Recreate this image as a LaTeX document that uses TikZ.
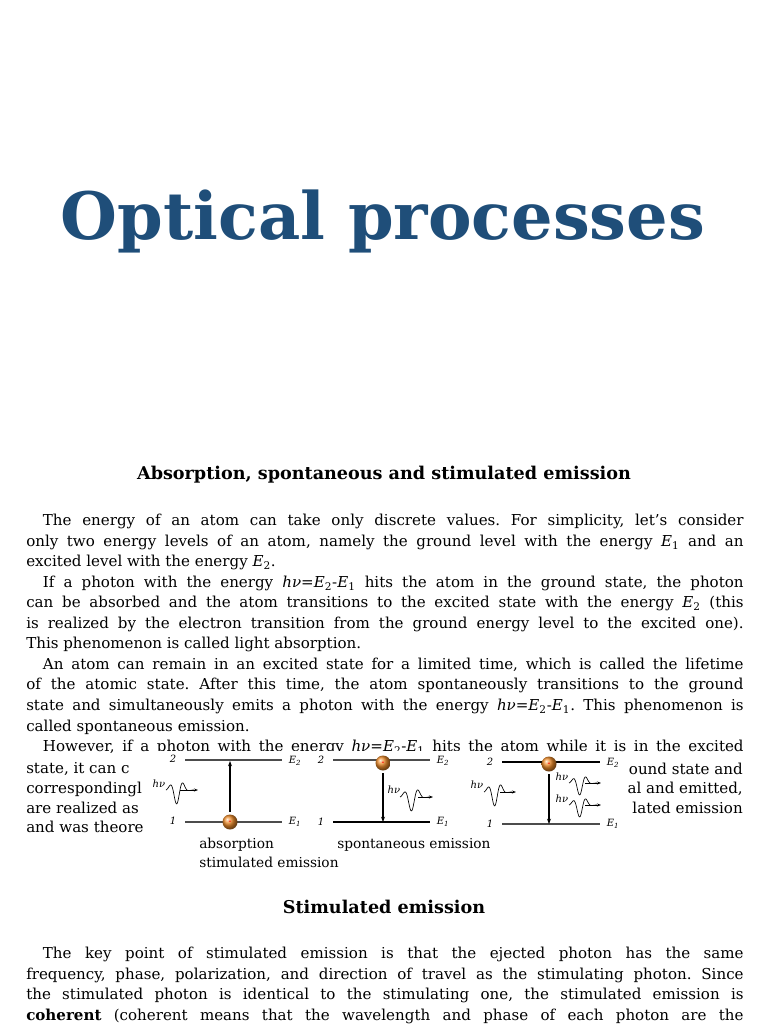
\documentclass[tikz,border=0pt]{standalone}
\usepackage{fontspec}
\setmainfont{DejaVu Serif}
\usetikzlibrary{arrows.meta}
\definecolor{titleblue}{RGB}{31,78,121}
\newcommand{\hnu}{\textit{hν}}
\newcommand{\Esub}[1]{\textit{E}\textsubscript{#1}}
\begin{document}
\begin{tikzpicture}[x=0.75pt,y=-0.75pt,
  body/.style={font=\fontsize{11.3}{15.4}\selectfont\frenchspacing, inner sep=0pt, align=justify, text width=538pt, anchor=north west},
  frag/.style={font=\fontsize{11.3}{15.4}\selectfont, inner sep=0pt},
  lvl/.style={line width=0.9pt, gray!60!black},
  lvlthick/.style={line width=1.5pt},
  trans/.style={line width=0.9pt, -{Stealth[length=4pt]}},
  lab/.style={font=\fontsize{7.5}{8}\selectfont\itshape, inner sep=0pt},
  captxt/.style={font=\fontsize{10.3}{11}\selectfont, inner sep=0pt, anchor=west},
  wave/.style={line width=0.5pt},
  warr/.style={line width=0.5pt, -{Stealth[length=3pt]}}]
\useasboundingbox (0,0) rectangle (768,1024);
\fill[white] (0,0) rectangle (768,1024);

\node[font=\fontsize{49}{52}\selectfont\bfseries, text=titleblue, inner sep=0pt] (title) at (383,221) {Optical processes};
\node[font=\fontsize{13.2}{15}\selectfont\bfseries, inner sep=0pt] (h1) at (384,475) {Absorption, spontaneous and stimulated emission};
\node[font=\fontsize{13.2}{15}\selectfont\bfseries, inner sep=0pt] (h2) at (384,907) {Stimulated emission};

\node[body] (p1) at (26,514) {\setlength{\parindent}{12.5pt}%
\indent The energy of an atom can take only discrete values. For simplicity, let’s consider\linebreak
only two energy levels of an atom, namely the ground level with the energy \Esub{1} and an\linebreak
excited level with the energy \Esub{2}.\par
\indent If a photon with the energy \hnu=\Esub{2}-\Esub{1} hits the atom in the ground state, the photon\linebreak
can be absorbed and the atom transitions to the excited state with the energy \Esub{2} (this\linebreak
is realized by the electron transition from the ground energy level to the excited one).\linebreak
This phenomenon is called light absorption.\par
\indent An atom can remain in an excited state for a limited time, which is called the lifetime\linebreak
of the atomic state. After this time, the atom spontaneously transitions to the ground\linebreak
state and simultaneously emits a photon with the energy \hnu=\Esub{2}-\Esub{1}. This phenomenon is\linebreak
called spontaneous emission.\par
\indent However, if a photon with the energy \hnu=\Esub{2}-\Esub{1} hits the atom while it is in the excited\linebreak};

\node[frag, anchor=west] (f1) at (26,769) {state, it can c};
\node[frag, anchor=west] (f2) at (26,789) {correspondingl};
\node[frag, anchor=west] (f3) at (26,808) {are realized as};
\node[frag, anchor=west] (f4) at (26,827) {and was theore};
\node[frag, anchor=east] (g1) at (743,769) {ound state and};
\node[frag, anchor=east] (g2) at (743,789) {al and emitted,};
\node[frag, anchor=east] (g3) at (743,808) {lated emission};

% picture background
\fill[white] (148,751) rectangle (612,867);

% panel 1: absorption
\coordinate (a2l) at (185,760); \coordinate (a2r) at (282,760);
\coordinate (a1l) at (185,822); \coordinate (a1r) at (282,822);
\draw[lvl] (a2l) -- (a2r); \draw[lvl] (a1l) -- (a1r);
\node[lab] (a2) at (173,759) {2}; \node[lab] (a1) at (173,821) {1};
\node[lab] (aE2) at (295,761) {E\textsubscript{2}}; \node[lab] (aE1) at (295,822) {E\textsubscript{1}};
\node[circle, minimum size=15pt, inner sep=0pt] (ae) at (230,822) {};
\draw[trans] (ae.north) -- (230,761);
\shade[ball color=orange!70!brown!90!white] (ae) circle (7.5);
\node[text=red, font=\tiny\bfseries, inner sep=0pt] at (ae) {-};
\node[lab] (ahv) at (159,784) {hν};
\draw[wave] plot[domain=0:1, samples=80] ({166+28*\x}, {790-14*exp(-((\x-0.4)/0.25)^2)*sin(720*\x)});
\draw[warr] (180,790) -- (198,790);
\node[captxt] (acap1) at (199,845) {absorption};
\node[captxt] (acap2) at (199,862) {stimulated emission};

% panel 2: spontaneous
\draw[lvl] (333,760) -- (430,760);
\draw[lvlthick] (333,822) -- (430,822);
\node[lab] (b2) at (321,760) {2}; \node[lab] (b1) at (321,822) {1};
\node[lab] (bE2) at (443,761) {E\textsubscript{2}}; \node[lab] (bE1) at (443,822) {E\textsubscript{1}};
\node[circle, minimum size=15pt, inner sep=0pt] (be) at (383,763) {};
\draw[trans] (be.south) -- (383,822);
\shade[ball color=orange!70!brown!90!white] (be) circle (7.5);
\node[text=red, font=\tiny\bfseries, inner sep=0pt] at (be) {-};
\node[lab] (bhv) at (394,790) {hν};
\draw[wave] plot[domain=0:1, samples=80] ({400+30*\x}, {797-14*exp(-((\x-0.4)/0.25)^2)*sin(720*\x)});
\draw[warr] (418,797) -- (433,797);
\node[captxt] (bcap) at (337,845) {spontaneous emission};

% panel 3: stimulated
\draw[lvlthick] (502,762) -- (600,762);
\draw[lvl] (502,824) -- (600,824);
\node[lab] (c2) at (490,762) {2}; \node[lab] (c1) at (490,824) {1};
\node[lab] (cE2) at (613,763) {E\textsubscript{2}}; \node[lab] (cE1) at (613,824) {E\textsubscript{1}};
\node[circle, minimum size=15pt, inner sep=0pt] (ce) at (549,764) {};
\draw[trans] (ce.south) -- (549,824);
\shade[ball color=orange!70!brown!90!white] (ce) circle (7.5);
\node[text=red, font=\tiny\bfseries, inner sep=0pt] at (ce) {-};
\node[lab] (chv) at (477,785) {hν};
\draw[wave] plot[domain=0:1, samples=80] ({484+28*\x}, {792-14*exp(-((\x-0.4)/0.25)^2)*sin(720*\x)});
\draw[warr] (500,792) -- (516,792);
\node[lab] (chv1) at (562,777) {hν};
\draw[wave] plot[domain=0:1, samples=80] ({569+28*\x}, {783-12*exp(-((\x-0.4)/0.25)^2)*sin(720*\x)});
\draw[warr] (585,783) -- (601,783);
\node[lab] (chv2) at (562,799) {hν};
\draw[wave] plot[domain=0:1, samples=80] ({569+28*\x}, {805-12*exp(-((\x-0.4)/0.25)^2)*sin(720*\x)});
\draw[warr] (585,805) -- (601,805);

\node[body] (p5) at (26,947) {\setlength{\parindent}{12.5pt}%
\indent The key point of stimulated emission is that the ejected photon has the same\linebreak
frequency, phase, polarization, and direction of travel as the stimulating photon. Since\linebreak
the stimulated photon is identical to the stimulating one, the stimulated emission is\linebreak
\textbf{coherent} (coherent means that the wavelength and phase of each photon are the\linebreak};
\end{tikzpicture}
\end{document}
